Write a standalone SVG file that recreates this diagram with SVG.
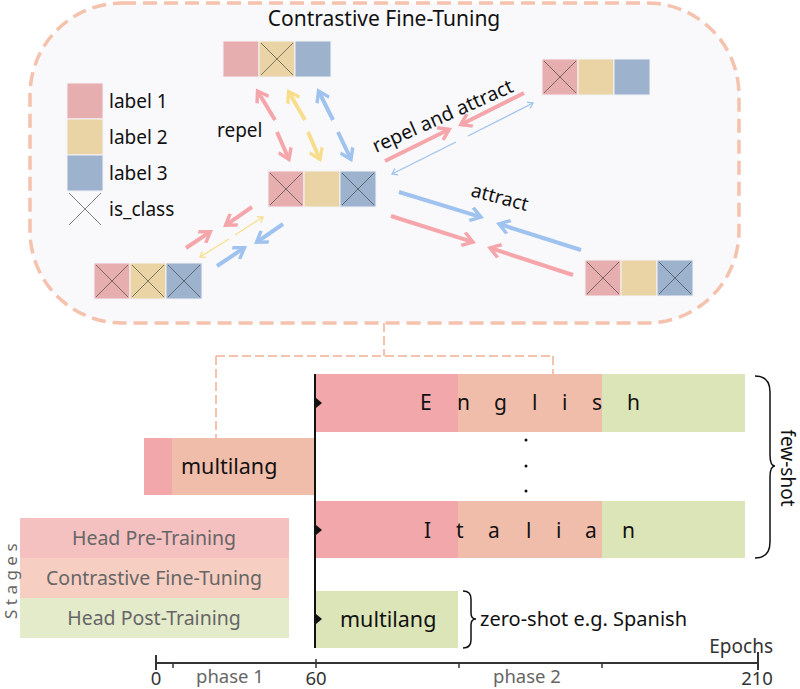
<svg xmlns="http://www.w3.org/2000/svg" width="800" height="689" viewBox="0 0 800 689">
<style>
text{font-family:"Noto Sans","Open Sans","DejaVu Sans",sans-serif;}
.c1{fill:#e6aeae;stroke:#f3f3f8;stroke-width:1}
.c2{fill:#ead4a5;stroke:#f3f3f8;stroke-width:1}
.c3{fill:#9db3cd;stroke:#f3f3f8;stroke-width:1}
.x{stroke:#333;stroke-width:0.6}
.ap{stroke:#f5a6ab;stroke-width:4;fill:none}
.ay{stroke:#f8de8c;stroke-width:4;fill:none}
.ab{stroke:#9fc3ee;stroke-width:4;fill:none}
.tb{stroke:#9fc3ee;stroke-width:1.3;fill:none}
.ty{stroke:#f8de8c;stroke-width:1.3;fill:none}
.conn{stroke:#f4c2ad;stroke-width:2;stroke-dasharray:9 4;fill:none}
.lbl{font-size:19px;fill:#111}
.st{font-size:19.5px;fill:#666;text-anchor:middle}
.ax{font-size:18.5px;fill:#333;text-anchor:middle}
.ph{font-size:18.5px;fill:#666;text-anchor:middle}
</style>
<defs>
<marker id="hp" markerUnits="userSpaceOnUse" markerWidth="30" markerHeight="30" refX="0" refY="0" orient="auto" overflow="visible"><path d="M3,0 L-9,-8 L-11.5,-5.5 L-3,0 L-11.5,5.5 L-9,8 Z" fill="#f5a6ab"/></marker>
<marker id="hy" markerUnits="userSpaceOnUse" markerWidth="30" markerHeight="30" refX="0" refY="0" orient="auto" overflow="visible"><path d="M3,0 L-9,-8 L-11.5,-5.5 L-3,0 L-11.5,5.5 L-9,8 Z" fill="#f8de8c"/></marker>
<marker id="hb" markerUnits="userSpaceOnUse" markerWidth="30" markerHeight="30" refX="0" refY="0" orient="auto" overflow="visible"><path d="M3,0 L-9,-8 L-11.5,-5.5 L-3,0 L-11.5,5.5 L-9,8 Z" fill="#9fc3ee"/></marker>
<marker id="tbh" markerUnits="userSpaceOnUse" markerWidth="20" markerHeight="20" refX="0" refY="0" orient="auto" overflow="visible"><path d="M-5,-3.5 L0,0 L-5,3.5" fill="none" stroke="#9fc3ee" stroke-width="1.3"/></marker>
<marker id="tyh" markerUnits="userSpaceOnUse" markerWidth="20" markerHeight="20" refX="0" refY="0" orient="auto" overflow="visible"><path d="M-5,-3.5 L0,0 L-5,3.5" fill="none" stroke="#f8de8c" stroke-width="1.3"/></marker>
</defs>

<g id="cft-frame">
<rect x="30" y="3" width="709" height="320" rx="92" ry="92" fill="#f9f9fc" stroke="#f4c2ad" stroke-width="3.5" stroke-dasharray="14 7"/>
<text x="384" y="26" text-anchor="middle" font-size="21" fill="#111">Contrastive Fine-Tuning</text>
</g>

<g id="legend">
<rect class="c1" x="67" y="83" width="36" height="36"/>
<rect class="c2" x="67" y="119" width="36" height="36"/>
<rect class="c3" x="67" y="155" width="36" height="36"/>
<line class="x" x1="69" y1="193" x2="101" y2="225"/><line class="x" x1="101" y1="193" x2="69" y2="225"/>
<text class="lbl" x="109" y="108">label 1</text>
<text class="lbl" x="109" y="144">label 2</text>
<text class="lbl" x="109" y="180">label 3</text>
<text class="lbl" x="109" y="216">is_class</text>
</g>

<g id="node-top">
<rect class="c1" x="223" y="41" width="36" height="36"/>
<rect class="c2" x="259" y="41" width="36" height="36"/>
<rect class="c3" x="295" y="41" width="36" height="36"/>
<line class="x" x1="261" y1="43" x2="293" y2="75"/><line class="x" x1="293" y1="43" x2="261" y2="75"/>
</g>

<g id="node-center">
<rect class="c1" x="268" y="171" width="36" height="36"/>
<rect class="c2" x="304" y="171" width="36" height="36"/>
<rect class="c3" x="340" y="171" width="36" height="36"/>
<line class="x" x1="270" y1="173" x2="302" y2="205"/><line class="x" x1="302" y1="173" x2="270" y2="205"/>
<line class="x" x1="342" y1="173" x2="374" y2="205"/><line class="x" x1="374" y1="173" x2="342" y2="205"/>
</g>

<g id="node-bottom-left">
<rect class="c1" x="94" y="263" width="36" height="36"/>
<rect class="c2" x="130" y="263" width="36" height="36"/>
<rect class="c3" x="166" y="263" width="36" height="36"/>
<line class="x" x1="96" y1="265" x2="128" y2="297"/><line class="x" x1="128" y1="265" x2="96" y2="297"/>
<line class="x" x1="132" y1="265" x2="164" y2="297"/><line class="x" x1="164" y1="265" x2="132" y2="297"/>
<line class="x" x1="168" y1="265" x2="200" y2="297"/><line class="x" x1="200" y1="265" x2="168" y2="297"/>
</g>

<g id="node-top-right">
<rect class="c1" x="542" y="59" width="36" height="36"/>
<rect class="c2" x="578" y="59" width="36" height="36"/>
<rect class="c3" x="614" y="59" width="36" height="36"/>
<line class="x" x1="544" y1="61" x2="576" y2="93"/><line class="x" x1="576" y1="61" x2="544" y2="93"/>
</g>

<g id="node-bottom-right">
<rect class="c1" x="585" y="260" width="36" height="36"/>
<rect class="c2" x="621" y="260" width="36" height="36"/>
<rect class="c3" x="657" y="260" width="36" height="36"/>
<line class="x" x1="587" y1="262" x2="619" y2="294"/><line class="x" x1="619" y1="262" x2="587" y2="294"/>
<line class="x" x1="659" y1="262" x2="691" y2="294"/><line class="x" x1="691" y1="262" x2="659" y2="294"/>
</g>

<g id="connectors">
<line class="ap" x1="275" y1="120" x2="257.5" y2="91" marker-end="url(#hp)"/>
<line class="ap" x1="277" y1="132" x2="289" y2="159.5" marker-end="url(#hp)"/>
<line class="ay" x1="305" y1="120" x2="288.5" y2="91.5" marker-end="url(#hy)"/>
<line class="ay" x1="308" y1="132" x2="320" y2="159.5" marker-end="url(#hy)"/>
<line class="ab" x1="333" y1="120" x2="318.5" y2="91" marker-end="url(#hb)"/>
<line class="ab" x1="338" y1="132" x2="351" y2="159.5" marker-end="url(#hb)"/>
<line class="ap" x1="385" y1="161" x2="449.3" y2="129.3" marker-end="url(#hp)"/>
<line class="ap" x1="524" y1="93" x2="460.7" y2="124.7" marker-end="url(#hp)"/>
<line class="tb" x1="468" y1="136" x2="533" y2="103" marker-end="url(#tbh)"/>
<line class="tb" x1="456" y1="142" x2="392" y2="174" marker-end="url(#tbh)"/>
<line class="ab" x1="399" y1="192" x2="481.1" y2="217.1" marker-end="url(#hb)"/>
<line class="ap" x1="391" y1="216" x2="473.1" y2="242.1" marker-end="url(#hp)"/>
<line class="ab" x1="581" y1="250" x2="498.9" y2="223.9" marker-end="url(#hb)"/>
<line class="ap" x1="573" y1="275" x2="489.9" y2="247.9" marker-end="url(#hp)"/>
<line class="ap" x1="186" y1="248" x2="210.5" y2="231.6" marker-end="url(#hp)"/>
<line class="ap" x1="252" y1="207" x2="225.5" y2="225.3" marker-end="url(#hp)"/>
<line class="ty" x1="229" y1="239" x2="200" y2="257" marker-end="url(#tyh)"/>
<line class="ty" x1="235" y1="235" x2="263" y2="217" marker-end="url(#tyh)"/>
<line class="ab" x1="217" y1="266" x2="244.5" y2="247.7" marker-end="url(#hb)"/>
<line class="ab" x1="283" y1="224" x2="256.5" y2="242.3" marker-end="url(#hb)"/>
<path class="conn" d="M384,323 V356 M216,356 H553 M216,356 V438 M553,356 V374"/>
</g>

<g id="arrow-labels">
<text class="lbl" x="217" y="137">repel</text>
<text class="lbl" transform="translate(376,153) rotate(-24)" style="font-size:19.5px">repel and attract</text>
<text class="lbl" transform="translate(470,196) rotate(15)">attract</text>
</g>

<g id="phase1-multilang">
<rect x="144" y="438" width="28" height="57" fill="#f2a8aa"/>
<rect x="172" y="438" width="143" height="57" fill="#f1bdab"/>
<text x="181" y="474" font-size="21.5" fill="#111">multilang</text>
</g>

<g id="row-english">
<rect x="315" y="374" width="143" height="58" fill="#f2a8aa"/>
<rect x="458" y="374" width="144" height="58" fill="#f1bdab"/>
<rect x="602" y="374" width="143" height="58" fill="#dce5b8"/>
<text x="420 457 494 532 562 592 627" y="410" font-size="21" fill="#111">English</text>
</g>

<g id="dots">
<circle cx="526" cy="440" r="1.5" fill="#111"/>
<circle cx="526" cy="466" r="1.5" fill="#111"/>
<circle cx="526" cy="491" r="1.5" fill="#111"/>
</g>

<g id="row-italian">
<rect x="315" y="501" width="143" height="57" fill="#f2a8aa"/>
<rect x="458" y="501" width="144" height="57" fill="#f1bdab"/>
<rect x="602" y="501" width="143" height="57" fill="#dce5b8"/>
<text x="424 456 488 526 556 585 622" y="538" font-size="21" fill="#111">Italian</text>
</g>

<g id="row-zeroshot">
<rect x="315" y="591" width="143" height="57" fill="#dce5b8"/>
<text x="340" y="627" font-size="21.5" fill="#111">multilang</text>
<path d="M463,591 Q471,591 471,599 L471,613 Q471,619 476,619 Q471,619 471,625 L471,640 Q471,648 463,648" fill="none" stroke="#111" stroke-width="1.5"/>
<text x="480" y="626" font-size="20" fill="#111">zero-shot e.g. Spanish</text>
</g>

<g id="few-shot">
<path d="M755,376 Q770,376 770,392 L770,455 Q770,466 775,466 Q770,466 770,477 L770,542 Q770,558 755,558" fill="none" stroke="#111" stroke-width="1.5"/>
<text transform="translate(781,468) rotate(90)" text-anchor="middle" font-size="19" fill="#111">few-shot</text>
</g>

<g id="timeline-axis">
<line x1="315" y1="374" x2="315" y2="648" stroke="#111" stroke-width="2"/>
<polygon points="316,398 322,403 316,408" fill="#111"/>
<polygon points="316,525 322,530 316,535" fill="#111"/>
<polygon points="316,614 322,619 316,624" fill="#111"/>
<line x1="156" y1="663" x2="758" y2="663" stroke="#333" stroke-width="2"/>
<line x1="156" y1="655" x2="156" y2="670" stroke="#333" stroke-width="2"/>
<line x1="173" y1="663" x2="173" y2="668" stroke="#333" stroke-width="1.5"/>
<line x1="316" y1="659" x2="316" y2="668" stroke="#333" stroke-width="1.5"/>
<line x1="459" y1="663" x2="459" y2="668" stroke="#333" stroke-width="1.5"/>
<line x1="602" y1="663" x2="602" y2="668" stroke="#333" stroke-width="1.5"/>
<line x1="758" y1="652" x2="758" y2="670" stroke="#333" stroke-width="2"/>
<text class="ax" x="156" y="685">0</text>
<text class="ph" x="230" y="683">phase 1</text>
<text class="ax" x="316" y="685">60</text>
<text class="ph" x="527" y="683">phase 2</text>
<text class="ax" x="757" y="685">210</text>
<text x="773" y="653" font-size="19" fill="#333" text-anchor="end">Epochs</text>
</g>

<g id="stages-legend">
<rect x="20" y="518" width="269" height="40" fill="#f5c0c0"/>
<rect x="20" y="558" width="269" height="40" fill="#f7cfc2"/>
<rect x="20" y="598" width="269" height="40" fill="#e4ebcb"/>
<text class="st" x="154" y="545">Head Pre-Training</text>
<text class="st" x="154" y="585">Contrastive Fine-Tuning</text>
<text class="st" x="154" y="625">Head Post-Training</text>
<text transform="translate(17,579) rotate(-90)" text-anchor="middle" font-size="17" fill="#666" letter-spacing="4.5">Stages</text>
</g>
</svg>
